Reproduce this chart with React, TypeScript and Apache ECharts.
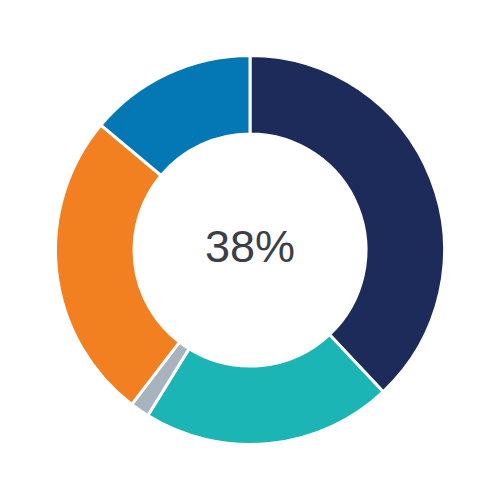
import { useEffect, useRef } from "react";
import * as echarts from "echarts";

const segmentNames = ["A", "B", "C", "D", "E"];
const segmentValues = [38, 20.8, 1.6, 25.7, 13.9];
const segmentColors = ["#1c2b5a", "#1bb5b5", "#a9b3be", "#f28021", "#0477b5"];
const centerLabel = "38%";

export default function App() {
  const chartRef = useRef<HTMLDivElement>(null);

  useEffect(() => {
    if (!chartRef.current) return;
    const chart = echarts.init(chartRef.current, undefined, { renderer: "svg" });

    const option: echarts.EChartsOption = {
      animation: false,
      backgroundColor: "#ffffff",
      graphic: [
        {
          type: "text",
          x: 250,
          y: 246,
          style: {
            text: centerLabel,
            fontSize: 45,
            fontFamily: "Liberation Sans, Arial, sans-serif",
            fill: "#3b3f46",
            align: "center",
            verticalAlign: "middle",
          },
        },
      ],
      series: [
        {
          type: "pie",
          center: [250, 250],
          radius: [116, 194.5],
          startAngle: 90,
          clockwise: true,
          label: { show: false },
          labelLine: { show: false },
          emphasis: { disabled: true },
          itemStyle: { borderColor: "#ffffff", borderWidth: 3 },
          data: segmentNames.map((name, i) => ({
            name,
            value: segmentValues[i],
            itemStyle: { color: segmentColors[i] },
          })),
        },
      ],
    };

    chart.setOption(option);
    return () => chart.dispose();
  }, []);

  return (
    <div
      ref={chartRef}
      style={{ position: "absolute", left: 0, top: 0, width: 500, height: 500 }}
    />
  );
}
